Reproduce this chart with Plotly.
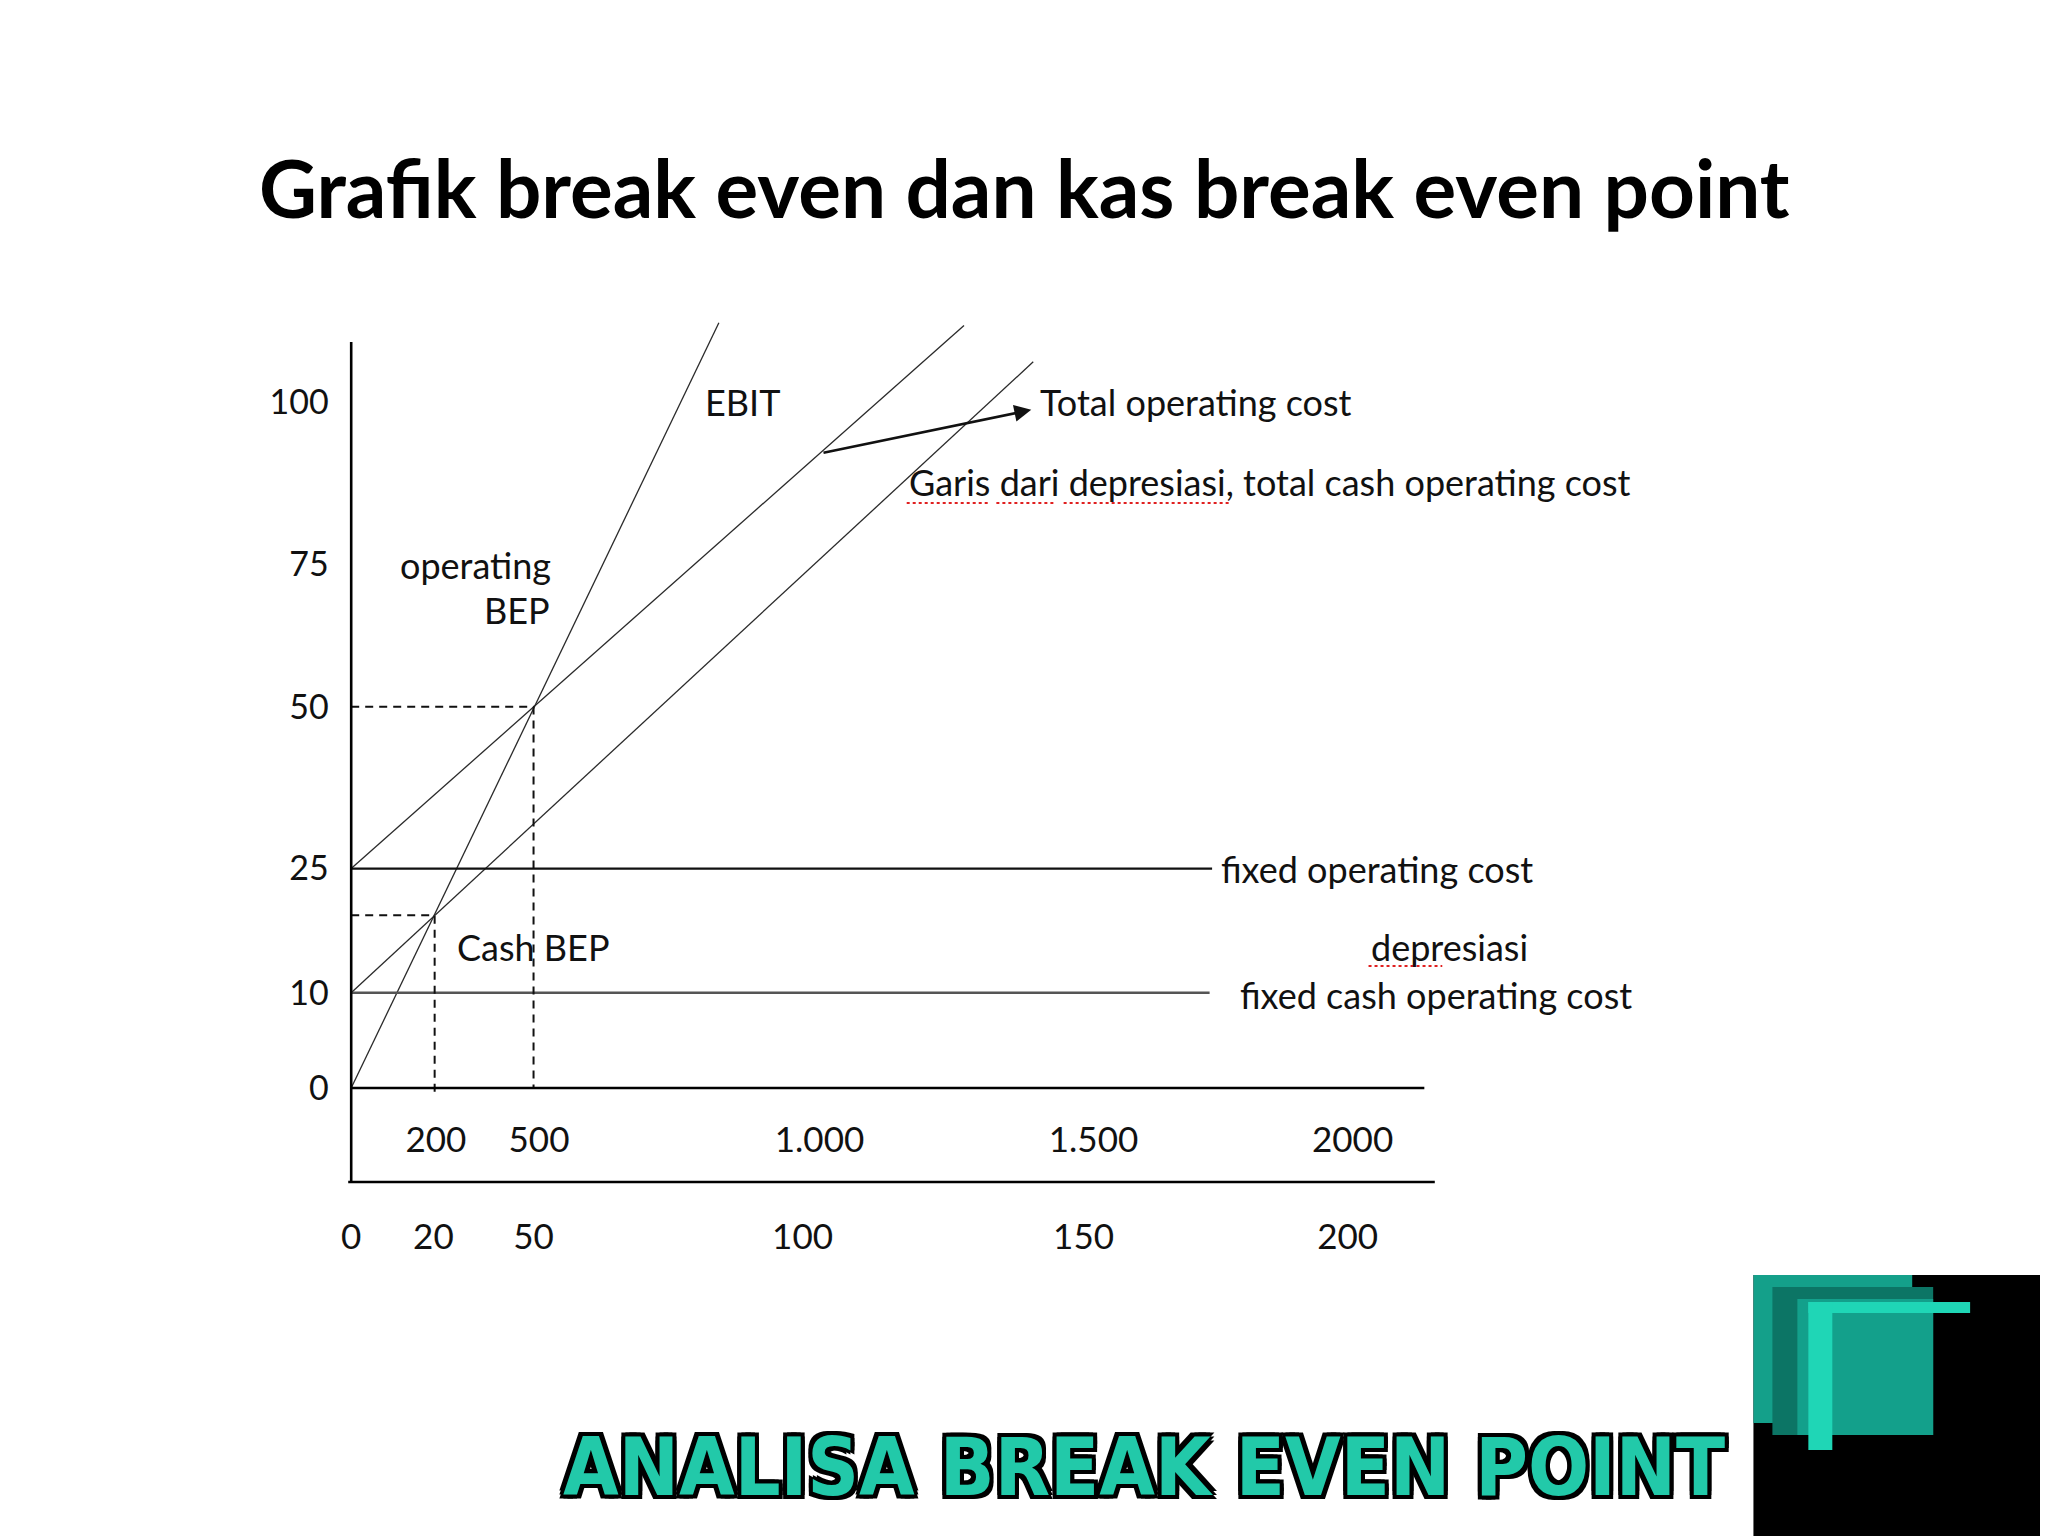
import plotly.graph_objects as go

# --- Skala diagram (posisi pada sumbu, mengikuti gambar asli) ---
y_tick_labels = ["0", "10", "25", "50", "75", "100"]
y_tick_pos = [0, 13.9, 32.0, 55.6, 76.4, 100.0]

rev_tick_labels = ["0", "20", "50", "100", "150", "200"]
rev_tick_pos = [0, 16.5, 36.6, 90.6, 147.0, 200.0]

unit_tick_labels = ["200", "500", "1.000", "1.500", "2000"]
unit_tick_pos = [17.0, 37.7, 94.0, 149.0, 201.0]

# --- Garis-garis ---
ebit_x = [0, 73.8]
ebit_y = [0, 111.6]
toc_x = [0, 123.0]            # total operating cost
toc_y = [32.0, 111.2]
tcoc_x = [0, 136.9]           # total cash operating cost
tcoc_y = [13.9, 105.9]
foc_x = [0, 172.8]            # fixed operating cost
foc_y = [32.0, 32.0]
fcoc_x = [0, 172.3]           # fixed cash operating cost
fcoc_y = [13.9, 13.9]

# titik BEP (operasional dan kas)
bep_x, bep_y = 36.6, 55.6
cash_bep_x, cash_bep_y = 16.75, 25.2

# garis sumbu
yaxis_x = [0, 0]
yaxis_y = [-13.7, 108.8]
units_axis_x = [0, 215.4]
units_axis_y = [0, 0]
rev_axis_x = [-0.6, 217.5]
rev_axis_y = [-13.7, -13.7]

# --- Penempatan (piksel layar 2048x1536, body punya margin 8px) ---
PAD = 8
W, H = 2048 - PAD, 1536 - PAD
X0_PX, PX_X = 348.7, 4.9894
Y0_PX, PX_Y = 1088.0, 6.857
XR = [-1.5, 219.0]
YR = [-14.5, 113.0]


def px(sx):
    return (sx - PAD) / W


def py(sy):
    return 1 - (sy - PAD) / H


xdom = [px(X0_PX + PX_X * XR[0]), px(X0_PX + PX_X * XR[1])]
ydom = [py(Y0_PX - PX_Y * YR[0]), py(Y0_PX - PX_Y * YR[1])]
units_axis_pos = py(Y0_PX)

FONT = "Lato, Carlito, Open Sans, sans-serif"
FS = 36
INK = "#111111"

fig = go.Figure()


def line(x, y, width=1.3, color="#2a2a2a", dash="solid"):
    fig.add_trace(go.Scatter(x=x, y=y, mode="lines", hoverinfo="skip",
                             line=dict(color=color, width=width, dash=dash),
                             showlegend=False))


# garis biaya dan pendapatan
line(ebit_x, ebit_y)
line(toc_x, toc_y)
line(tcoc_x, tcoc_y)
line(foc_x, foc_y, width=2.4, color="#111111")
line(fcoc_x, fcoc_y, width=2.4, color="#555555")

# garis putus-putus BEP
line([0, bep_x, bep_x], [bep_y, bep_y, 0], width=2.0, color="#111111", dash="8px,6px")
line([0, cash_bep_x, cash_bep_x], [cash_bep_y, cash_bep_y, -1.0],
     width=2.0, color="#111111", dash="8px,6px")

# sumbu
line(yaxis_x, yaxis_y, width=2.6, color="#000000")
line(units_axis_x, units_axis_y, width=2.6, color="#000000")
line(rev_axis_x, rev_axis_y, width=2.6, color="#000000")

# garis bergelombang pemeriksa ejaan (merah)
squig = [([111.5, 128.0], 85.3), ([129.5, 141.5], 85.3), ([143.0, 176.5], 85.3),
         ([204.2, 237.0], 17.8)]
for sx, sy in squig:
    line(sx, [sy, sy], width=2.0, color="#e02020", dash="dot")

labels = [
    ("EBIT", 70.7, 100.0),
    ("Total operating cost", 137.9, 100.0),
    ("Garis dari depresiasi, total cash operating cost", 111.5, 88.4),
    ("operating", 9.4, 76.2),
    ("BEP", 26.2, 69.7),
    ("Cash BEP", 20.9, 20.6),
    ("fixed operating cost", 174.1, 32.0),
    ("depresiasi", 204.2, 20.6),
    ("fixed cash operating cost", 178.0, 13.5),
    ("sales units", 219.4, -0.4),
    ("Sales", 219.4, -14.3),
    ("revenue", 220.2, -21.5),
    ("(000)", 220.2, -28.2),
]
for txt, lx, ly in labels:
    fig.add_annotation(x=lx, y=ly, text=txt, showarrow=False, xanchor="left",
                       yanchor="middle", font=dict(family=FONT, size=FS, color=INK))

# panah ke Total operating cost
fig.add_annotation(x=136.5, y=98.9, ax=94.5, ay=92.6, axref="x", ayref="y",
                   text="", showarrow=True, arrowhead=2, arrowsize=1.3,
                   arrowwidth=2.6, arrowcolor="#111111")

# judul
fig.add_annotation(xref="paper", yref="paper", x=px(1023), y=py(187),
                   text="<b>Grafik break even dan kas break even point</b>",
                   showarrow=False, xanchor="center", yanchor="middle",
                   font=dict(family=FONT, size=80, color="#000000"))

# logo pojok kanan bawah
logo = [
    (1753, 1275, 2048, 1536, "#000000"),
    (1753, 1275, 1912, 1423, "#14a08a"),
    (1772, 1287, 1933, 1435, "#0c7565"),
    (1797, 1299, 1933, 1435, "#13a08b"),
    (1808, 1302, 1970, 1313, "#1fd6b6"),
    (1808, 1302, 1832, 1450, "#1fd6b6"),
]
for x0, y0, x1, y1, c in logo:
    fig.add_shape(type="rect", xref="paper", yref="paper", x0=px(x0), x1=px(x1),
                  y0=py(y1), y1=py(y0), fillcolor=c, line_width=0, layer="below")

o = "4px"
shadow = ", ".join(f"{a} {b} 0 #000" for a, b in
                   [(o, o), ("-" + o, o), (o, "-" + o), ("-" + o, "-" + o),
                    ("0", o), ("0", "-" + o), (o, "0"), ("-" + o, "0")])
fig.add_annotation(xref="paper", yref="paper", x=px(1143), y=py(1467),
                   text="<b>ANALISA BREAK EVEN POINT</b>", showarrow=False,
                   xanchor="center", yanchor="middle",
                   font=dict(family="Liberation Sans Narrow, DejaVu Sans Condensed, sans-serif",
                             size=80, color="#22c9a9", shadow=shadow))

axis_common = dict(showgrid=False, zeroline=False, showline=False, ticks="")

fig.update_layout(
    width=W, height=H,
    margin=dict(l=0, r=0, t=0, b=0),
    paper_bgcolor="white", plot_bgcolor="white",
    showlegend=False,
    xaxis=dict(domain=xdom, range=XR, anchor="y", tickvals=rev_tick_pos,
               ticktext=rev_tick_labels, ticklabelstandoff=26,
               tickfont=dict(family=FONT, size=35, color=INK), **axis_common),
    xaxis2=dict(domain=xdom, range=XR, overlaying="x", anchor="free",
                position=units_axis_pos, side="bottom", tickvals=unit_tick_pos,
                ticktext=unit_tick_labels, ticklabelstandoff=28,
                tickfont=dict(family=FONT, size=35, color=INK), **axis_common),
    yaxis=dict(domain=ydom, range=YR, tickvals=y_tick_pos, ticktext=y_tick_labels,
               ticklabelstandoff=14,
               tickfont=dict(family=FONT, size=34, color=INK), **axis_common),
)

# trace kosong agar xaxis2 ikut tampil
fig.add_trace(go.Scatter(x=[None], y=[None], xaxis="x2", yaxis="y", showlegend=False))

fig.write_html("out.html")
